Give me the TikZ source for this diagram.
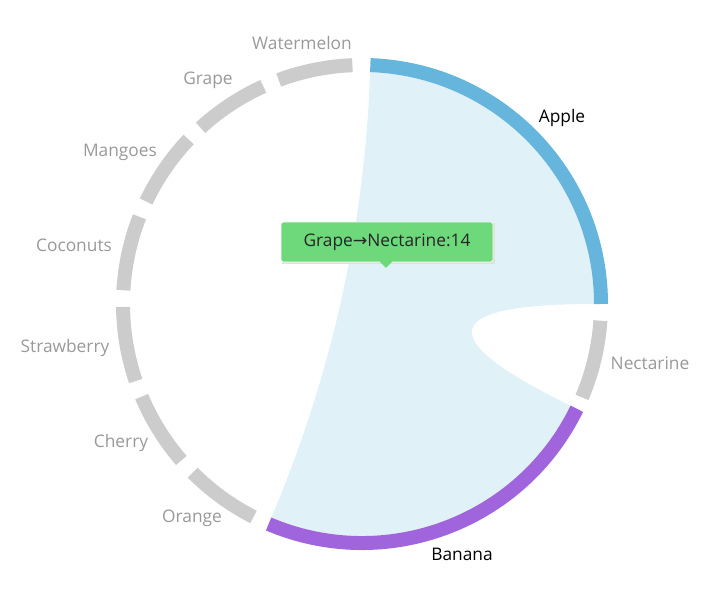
\documentclass[tikz,border=0pt]{standalone}
\usepackage{fontspec}
\setmainfont{Open Sans}
\newfontfamily\symfont{DejaVu Sans}
\usepackage{tikz}
\usetikzlibrary{calc}
\definecolor{apple}{HTML}{66B5DC}
\definecolor{banana}{HTML}{A064DC}
\definecolor{seg}{HTML}{CCCCCC}
\definecolor{chord}{HTML}{E1F1F8}
\definecolor{lbl}{HTML}{999999}
\definecolor{tip}{HTML}{6DD97B}
\tikzset{
 ring/.style={line width=10.5pt},
 glabel/.style={text=lbl,font=\fontsize{13}{15}\selectfont},
 blabel/.style={text=black,font=\fontsize{13}{15}\selectfont},
}
\begin{document}
\begin{tikzpicture}[x=0.75pt,y=-0.75pt]
\useasboundingbox (0,0) rectangle (715,591);
\coordinate (c) at (362,304);
\coordinate (p1) at ($(c)+(-88:232)$);
\coordinate (p2) at ($(c)+(113:232)$);
\coordinate (p3) at ($(c)+(26:232)$);
\coordinate (p4) at ($(c)+(0:232)$);
% chord
\fill[chord] (p1) .. controls ($(p1)!2/3!(c)$) and ($(p2)!2/3!(c)$) .. (p2) arc[start angle=113,end angle=26,radius=232]
  .. controls ($(p3)!2/3!(c)$) and ($(p4)!2/3!(c)$) .. (p4) arc[start angle=0,end angle=-88,radius=232] -- cycle;
% rings
\draw[ring,apple] (c) ++(0:239) arc[start angle=0,end angle=-88,radius=239];
\draw[ring,banana] (c) ++(26:239) arc[start angle=26,end angle=113,radius=239];
\draw[ring,seg] (c) ++(4:239) arc[start angle=4,end angle=23,radius=239];
\foreach \i in {0,...,6}{
  \pgfmathsetmacro\s{117+\i*22.1}
  \pgfmathsetmacro\e{\s+18.1}
  \draw[ring,seg] (c) ++(\s:239) arc[start angle=\s,end angle=\e,radius=239];
}
% labels
\node[glabel] (wm) at (302,43) {Watermelon};
\node[glabel] (gr) at (208,80) {Grape};
\node[glabel] (mg) at (120,152) {Mangoes};
\node[glabel] (co) at (74,245) {Coconuts};
\node[glabel] (st) at (65,348) {Strawberry};
\node[glabel] (ch) at (121,443) {Cherry};
\node[glabel] (or) at (192,518) {Orange};
\node[glabel] (ne) at (650,363) {Nectarine};
\node[blabel] (ap) at (562,118) {Apple};
\node[blabel] (ba) at (462,554) {Banana};
% tooltip
\fill[black!12] (282,223) rectangle (495,264);
\draw[white,fill=tip,rounded corners=2] (281,222) rectangle (493,262);
\fill[tip] (379,261) -- (386,268) -- (393,261) -- cycle;
\node[text=black!85,font=\fontsize{13}{15}\selectfont] (tt) at (387,242) {Grape{\symfont →}Nectarine:14};
\end{tikzpicture}
\end{document}
